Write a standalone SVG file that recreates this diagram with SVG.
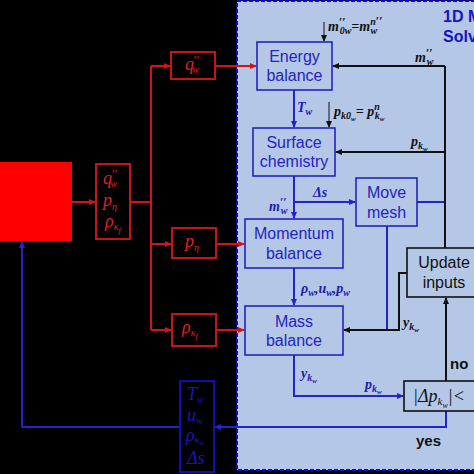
<svg xmlns="http://www.w3.org/2000/svg" width="474" height="474" viewBox="0 0 474 474">
<defs>
<style>
.bg{fill:#000}
.panel{fill:#b4c7e7;stroke:#0a0ad0;stroke-width:2;stroke-dasharray:4 2}
.rbox{fill:none;stroke:#c81414;stroke-width:2}
.bbox{fill:#b4c7e7;stroke:#2323c0;stroke-width:1.6}
.obox{fill:none;stroke:#1010b0;stroke-width:2}
.kbox{fill:#b4c7e7;stroke:#111;stroke-width:1.6}
.rl{fill:none;stroke:#d41414;stroke-width:2}
.bl{fill:none;stroke:#2323c8;stroke-width:2}
.kl{fill:none;stroke:#111;stroke-width:2}
.kt{fill:none;stroke:#111;stroke-width:1}
.lab{font-family:"Liberation Sans",Arial,sans-serif;font-size:16px;fill:#2424c0;text-anchor:middle}
.klab{font-family:"Liberation Sans",Arial,sans-serif;font-size:16px;fill:#111;text-anchor:middle}
.rm{font-family:"Liberation Serif","DejaVu Serif",serif;font-style:italic;font-size:18px;fill:#e02020}
.om{font-family:"Liberation Serif","DejaVu Serif",serif;font-style:italic;font-size:18px;fill:#1818b8}
.bm{font-family:"Liberation Serif","DejaVu Serif",serif;font-style:italic;font-weight:bold;font-size:14px;fill:#1c1cb0}
.km{font-family:"Liberation Serif","DejaVu Serif",serif;font-style:italic;font-weight:bold;font-size:14px;fill:#111}
.kw{font-family:"Liberation Sans",Arial,sans-serif;font-weight:bold;font-size:15px;fill:#111}
.title{font-family:"Liberation Sans",Arial,sans-serif;font-weight:bold;font-size:16px;fill:#1414c0}
.sub{font-size:10px}
.pr{font-size:12px;font-style:normal}
</style>
<marker id="ar" markerWidth="7" markerHeight="7" refX="6" refY="3.5" orient="auto" markerUnits="userSpaceOnUse"><path d="M0,0.5 L7,3.5 L0,6.5 Z" fill="#d41414"/></marker>
<marker id="ab" markerWidth="7" markerHeight="7" refX="6" refY="3.5" orient="auto" markerUnits="userSpaceOnUse"><path d="M0,0.5 L7,3.5 L0,6.5 Z" fill="#2323c8"/></marker>
<marker id="ak" markerWidth="7" markerHeight="7" refX="6" refY="3.5" orient="auto" markerUnits="userSpaceOnUse"><path d="M0,0.5 L7,3.5 L0,6.5 Z" fill="#111"/></marker>
</defs>
<rect class="bg" x="0" y="0" width="474" height="474"/>
<rect class="panel" x="237" y="1" width="245" height="469"/>
<text class="title" x="443" y="22">1D M</text>
<text class="title" x="443" y="42">Solv</text>

<g id="connectors">
<path class="rl" d="M72,202 H95" marker-end="url(#ar)"/>
<path class="rl" d="M130,202 H151 M151,66 V330"/>
<path class="rl" d="M151,66 H170" marker-end="url(#ar)"/>
<path class="rl" d="M151,244 H171" marker-end="url(#ar)"/>
<path class="rl" d="M151,330 H171" marker-end="url(#ar)"/>
<path class="rl" d="M215,66 H256" marker-end="url(#ar)"/>
<path class="rl" d="M216,244 H244" marker-end="url(#ar)"/>
<path class="rl" d="M216,330 H244" marker-end="url(#ar)"/>
<path class="bl" d="M294,90 V127" marker-end="url(#ab)"/>
<path class="bl" d="M294,176 V218" marker-end="url(#ab)"/>
<path class="bl" d="M294,202 H355" marker-end="url(#ab)"/>
<path class="bl" d="M294,268 V305" marker-end="url(#ab)"/>
<path class="bl" d="M294,355 V396 H403" marker-end="url(#ab)"/>
<path class="bl" d="M417,202 H445"/>
<path class="bl" d="M387,226 V330"/>
<path class="kl" d="M445,66 V248"/>
<path class="kl" d="M445,66 H333" marker-end="url(#ak)"/>
<path class="kl" d="M445,152 H336" marker-end="url(#ak)"/>
<path class="kl" d="M407,273 H399 V330 H344" marker-end="url(#ak)"/>
<path class="kl" d="M446,381 V298" marker-end="url(#ak)"/>
<path class="kt" d="M324,22 V41" marker-end="url(#ak)"/>
<path class="kt" d="M329,102 V127" marker-end="url(#ak)"/>
<path class="bl" d="M446,411 V427 H215" marker-end="url(#ab)"/>
<path class="bl" d="M180,427 H22 V242" marker-end="url(#ab)"/>
</g>

<g id="red-source"><rect x="0" y="162" width="72" height="79" fill="#ff0000"/></g>

<g id="red-inputs">
<rect class="rbox" x="96" y="164" width="34" height="75"/>
<text class="rm" x="103" y="184">q<tspan class="pr" dy="-6">′′</tspan><tspan class="sub" dx="-7" dy="9">w</tspan></text>
<text class="rm" x="103" y="206">p<tspan class="sub" dy="4">η</tspan></text>
<text class="rm" x="105" y="227">ρ<tspan class="sub" dy="3">κ</tspan><tspan font-size="8" dy="3">f</tspan></text>
</g>
<g id="q-box">
<rect class="rbox" x="171" y="52" width="44" height="27"/>
<text class="rm" x="185" y="70">q<tspan class="pr" dy="-6">′′</tspan><tspan class="sub" dx="-7" dy="9">w</tspan></text>
</g>
<g id="p-box">
<rect class="rbox" x="172" y="228" width="44" height="30"/>
<text class="rm" x="185" y="247">p<tspan class="sub" dy="4">η</tspan></text>
</g>
<g id="rho-box">
<rect class="rbox" x="172" y="314" width="44" height="32"/>
<text class="rm" x="182" y="333">ρ<tspan class="sub" dy="3">κ</tspan><tspan font-size="8" dy="3">f</tspan></text>
</g>

<g id="energy">
<rect class="bbox" x="257" y="42" width="75" height="48"/>
<text class="lab" x="294.5" y="62">Energy</text>
<text class="lab" x="294.5" y="81">balance</text>
</g>
<g id="surface">
<rect class="bbox" x="253" y="128" width="82" height="48"/>
<text class="lab" x="294" y="148">Surface</text>
<text class="lab" x="294" y="167">chemistry</text>
</g>
<g id="move">
<rect class="bbox" x="356" y="178" width="61" height="48"/>
<text class="lab" x="386.5" y="198">Move</text>
<text class="lab" x="386.5" y="218">mesh</text>
</g>
<g id="momentum">
<rect class="bbox" x="245" y="219" width="98" height="49"/>
<text class="lab" x="294" y="239">Momentum</text>
<text class="lab" x="294" y="259">balance</text>
</g>
<g id="mass">
<rect class="bbox" x="245" y="306" width="98" height="49"/>
<text class="lab" x="294" y="327">Mass</text>
<text class="lab" x="294" y="346">balance</text>
</g>
<g id="update">
<rect class="kbox" x="407" y="248" width="80" height="49"/>
<text class="klab" x="444" y="268">Update</text>
<text class="klab" x="444" y="288">inputs</text>
</g>
<g id="check">
<rect class="kbox" x="404" y="381" width="80" height="30"/>
<text x="413" y="402" style="font-family:'Liberation Serif',serif;font-style:italic;font-size:18px;fill:#111">|Δp<tspan font-size="11" dy="3">k</tspan><tspan font-size="8" dy="3">w</tspan><tspan dy="-6">|&lt;</tspan></text>
</g>
<g id="outputs">
<rect class="obox" x="180" y="381" width="34" height="91"/>
<text class="om" x="187" y="400">T<tspan class="sub" dy="3">w</tspan></text>
<text class="om" x="187" y="421">u<tspan class="sub" dy="3">w</tspan></text>
<text class="om" x="186" y="441">ρ<tspan class="sub" dy="2">κ</tspan><tspan font-size="7" dy="2">w</tspan></text>
<text class="om" x="187" y="464">Δs</text>
</g>

<g id="labels">
<text class="km" x="328" y="31">m<tspan class="pr" dy="-5">′′</tspan><tspan class="sub" dx="-6" dy="8">0w</tspan><tspan dy="-3">=m</tspan><tspan class="sub" dy="-6">n</tspan><tspan class="pr" dy="0">′′</tspan><tspan class="sub" dx="-12" dy="9">w</tspan></text>
<text class="km" x="415" y="62">m<tspan class="pr" dy="-5">′′</tspan><tspan class="sub" dx="-6" dy="8">w</tspan></text>
<text class="bm" x="297" y="112">T<tspan class="sub" dy="3">w</tspan></text>
<text class="km" x="334" y="116">p<tspan class="sub" dy="3">k0</tspan><tspan font-size="7" dy="2">w</tspan><tspan dy="-5">= p</tspan><tspan class="sub" dy="-6">n</tspan><tspan class="sub" dx="-5" dy="9">k</tspan><tspan font-size="7" dy="2">w</tspan></text>
<text class="km" x="411" y="146">p<tspan class="sub" dy="3">k</tspan><tspan font-size="7" dy="2">w</tspan></text>
<text class="bm" x="313" y="197">Δs</text>
<text class="bm" x="269" y="211">m<tspan class="pr" dy="-5">′′</tspan><tspan class="sub" dx="-6" dy="8">w</tspan></text>
<text class="bm" x="301" y="293">ρ<tspan class="sub" dy="3">w</tspan><tspan dy="-3">,u</tspan><tspan class="sub" dy="3">w</tspan><tspan dy="-3">,p</tspan><tspan class="sub" dy="3">w</tspan></text>
<text class="km" x="403" y="327">y<tspan class="sub" dy="3">k</tspan><tspan font-size="7" dy="2">w</tspan></text>
<text class="bm" x="301" y="378">y<tspan class="sub" dy="3">k</tspan><tspan font-size="7" dy="2">w</tspan></text>
<text class="bm" x="365" y="389">p<tspan class="sub" dy="3">k</tspan><tspan font-size="7" dy="2">w</tspan></text>
<text class="kw" x="450" y="369">no</text>
<text class="kw" x="416" y="446">yes</text>
</g>
</svg>
